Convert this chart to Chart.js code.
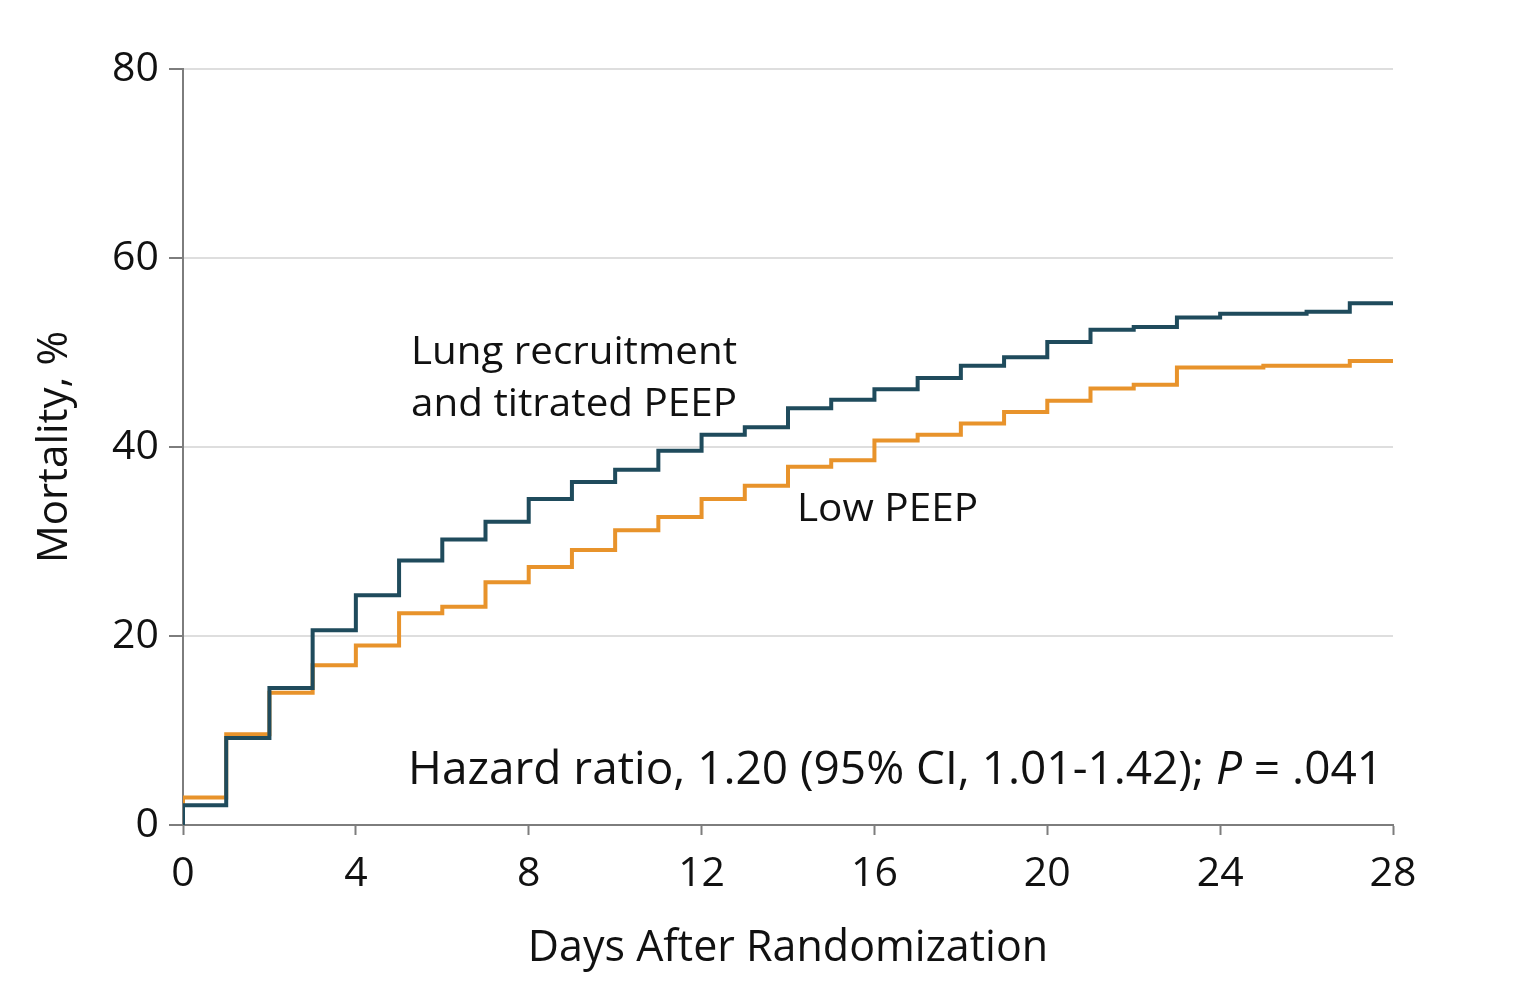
<!DOCTYPE html>
<html>
<head>
<meta charset="utf-8">
<script src="https://cdn.jsdelivr.net/npm/chart.js@4/dist/chart.umd.min.js"></script>
<style>
  html, body { margin: 0; padding: 0; background: #fff; }
  #wrap { width: 1540px; height: 983px; }
</style>
</head>
<body>
<div id="wrap"><canvas id="km" width="1540" height="983"></canvas></div>
<script>
// Kaplan-Meier mortality, % (level reached at each day; first point is the origin)
const days = [0, 0, 1, 2, 3, 4, 5, 6, 7, 8, 9, 10, 11, 12, 13, 14, 15, 16, 17, 18, 19, 20, 21, 22, 23, 24, 25, 26, 27, 28];
const recruitmentPeep = [0, 2.1, 9.2, 14.5, 20.6, 24.3, 28.0, 30.2, 32.1, 34.5, 36.3, 37.6, 39.6, 41.3, 42.1, 44.1, 45.0, 46.1, 47.3, 48.6, 49.5, 51.1, 52.4, 52.7, 53.7, 54.1, 54.1, 54.3, 55.2, 55.2];
const lowPeep = [0, 2.9, 9.6, 14.0, 16.9, 19.0, 22.4, 23.1, 25.7, 27.3, 29.1, 31.2, 32.6, 34.5, 35.9, 37.9, 38.6, 40.7, 41.3, 42.5, 43.7, 44.9, 46.2, 46.6, 48.4, 48.4, 48.6, 48.6, 49.1, 49.1];
const xTicks = [0, 4, 8, 12, 16, 20, 24, 28];
const yTicks = [0, 20, 40, 60, 80];

const FONT = "'Open Sans', 'Noto Sans', sans-serif";
const WEIGHT = 500;
const INK = '#111111';
const AXIS = '#7d7d7d';

function pts(ys) {
  return days.map((d, i) => ({ x: d, y: ys[i] }));
}

// text squeezed to the width it takes in the original figure
function fitText(ctx, parts, x, baseline, size, width) {
  const fontOf = p => (p.italic ? 'italic ' : '') + WEIGHT + ' ' + size + 'px ' + FONT;
  let total = 0;
  parts.forEach(p => {
    ctx.font = fontOf(p);
    total += ctx.measureText(p.t).width;
  });
  const k = width / total;
  ctx.save();
  ctx.translate(x, baseline);
  ctx.scale(k, 1);
  let cx = 0;
  parts.forEach(p => {
    ctx.font = fontOf(p);
    ctx.fillText(p.t, cx, 0);
    cx += ctx.measureText(p.t).width;
  });
  ctx.restore();
}

const labels = {
  id: 'labels',
  afterDatasetsDraw(chart) {
    const ctx = chart.ctx;
    ctx.save();
    ctx.fillStyle = INK;
    ctx.textBaseline = 'alphabetic';
    ctx.textAlign = 'left';
    fitText(ctx, [{ t: 'Lung recruitment' }], 411, 364, 39, 326);
    fitText(ctx, [{ t: 'and titrated PEEP' }], 411, 416, 39, 326);
    fitText(ctx, [{ t: 'Low PEEP' }], 797, 521, 39, 181);
    fitText(ctx, [
      { t: 'Hazard ratio, 1.20 (95% CI, 1.01-1.42); ' },
      { t: 'P', italic: true },
      { t: ' = .041' }
    ], 408, 784, 45, 975);
    ctx.restore();
  }
};

new Chart(document.getElementById('km').getContext('2d'), {
  type: 'line',
  data: {
    datasets: [
      {
        label: 'Lung recruitment and titrated PEEP',
        data: pts(recruitmentPeep),
        borderColor: '#1f4b5c',
        borderWidth: 4,
        stepped: 'before',
        pointRadius: 0,
        fill: false
      },
      {
        label: 'Low PEEP',
        data: pts(lowPeep),
        borderColor: '#e8932b',
        borderWidth: 4,
        stepped: 'before',
        pointRadius: 0,
        fill: false
      }
    ]
  },
  options: {
    responsive: false,
    animation: false,
    devicePixelRatio: 1,
    layout: { padding: { top: 69, right: 147, left: 0, bottom: 0 } },
    plugins: {
      legend: { display: false },
      tooltip: { enabled: false }
    },
    scales: {
      x: {
        type: 'linear',
        min: 0,
        max: 28,
        afterBuildTicks: s => { s.ticks = xTicks.map(v => ({ value: v })); },
        afterFit: s => { s.height = 158; },
        border: { color: AXIS, width: 2 },
        grid: { drawOnChartArea: false, drawTicks: true, tickLength: 10, tickColor: AXIS, tickWidth: 2 },
        ticks: { color: INK, padding: 15, maxRotation: 0, font: { family: FONT, size: 41, weight: WEIGHT } },
        title: {
          display: true,
          text: 'Days After Randomization',
          color: INK,
          font: { family: FONT, size: 43, weight: WEIGHT },
          padding: { top: 0, bottom: 8 }
        }
      },
      y: {
        min: 0,
        max: 80,
        afterBuildTicks: s => { s.ticks = yTicks.map(v => ({ value: v })); },
        afterFit: s => { s.width = 183; },
        border: { color: AXIS, width: 2 },
        grid: { color: '#dedede', lineWidth: 2, drawTicks: true, tickLength: 14, tickColor: AXIS, tickWidth: 2 },
        ticks: { color: INK, padding: 10, font: { family: FONT, size: 41, weight: WEIGHT } },
        title: {
          display: true,
          text: 'Mortality, %',
          color: INK,
          font: { family: FONT, size: 42, weight: WEIGHT },
          padding: { top: 30, bottom: 0 }
        }
      }
    }
  },
  plugins: [labels]
});
</script>
</body>
</html>
